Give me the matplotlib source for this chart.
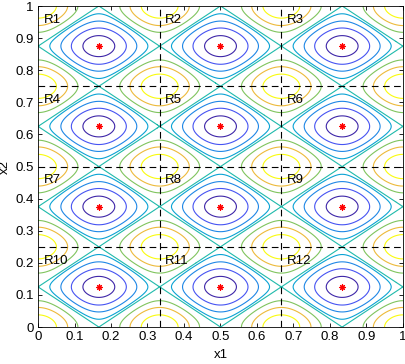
import numpy as np
import matplotlib
matplotlib.use("Agg")
import matplotlib.pyplot as plt
from matplotlib import font_manager

names = {f.name for f in font_manager.fontManager.ttflist}
fam = 'Liberation Sans Narrow' if 'Liberation Sans Narrow' in names else 'Liberation Sans'
plt.rcParams['font.family'] = [fam, 'DejaVu Sans']

# Function parameters: f(x1,x2) = cos(2*pi*kx*x1) + cos(2*pi*ky*x2)
kx = 3
ky = 4
# Contour levels, with their colours (parula-like)
levels = [-1.68, -1.15, -0.62, -0.18, 0.0, 0.53, 1.04, 1.58]
level_colors = [
    (0.2422, 0.1504, 0.6603),
    (0.2800, 0.3300, 0.9500),
    (0.1200, 0.5300, 0.9000),
    (0.0400, 0.6400, 0.8300),
    (0.1200, 0.7300, 0.6700),
    (0.5000, 0.7700, 0.3700),
    (0.9300, 0.7300, 0.2300),
    (0.9763, 0.9831, 0.0538),
]

# Minima (red stars)
star_x = [1/6, 0.5, 5/6]
star_y = [0.125, 0.375, 0.625, 0.875]

# Region boundaries
x_bounds = [1/3, 2/3]
y_bounds = [0.25, 0.5, 0.75]
region_left = [0.0, 1/3, 2/3]
region_top = [1.0, 0.75, 0.5, 0.25]
region_labels = ["R1", "R2", "R3", "R4", "R5", "R6", "R7", "R8", "R9", "R10", "R11", "R12"]

ticks = [0, 0.1, 0.2, 0.3, 0.4, 0.5, 0.6, 0.7, 0.8, 0.9, 1]
tick_labels = ["0", "0.1", "0.2", "0.3", "0.4", "0.5", "0.6", "0.7", "0.8", "0.9", "1"]

fig = plt.figure(figsize=(4.06, 3.64), dpi=100)
ax = fig.add_axes([0.0936, 0.1016, 0.8990, 0.8819])

g = np.linspace(0, 1, 301)
X1, X2 = np.meshgrid(g, g)
F = np.cos(2 * np.pi * kx * X1) + np.cos(2 * np.pi * ky * X2)

ax.contour(X1, X2, F, levels=levels, colors=level_colors, linewidths=0.8, linestyles='solid')

for xb in x_bounds:
    ax.plot([xb, xb], [0, 1], color='black', linestyle=(0, (6, 4)), linewidth=0.8)
for yb in y_bounds:
    ax.plot([0, 1], [yb, yb], color='black', linestyle=(0, (6, 4)), linewidth=0.8)

sx, sy = np.meshgrid(star_x, star_y)
ax.plot(sx.ravel(), sy.ravel(), linestyle='none', marker=(8, 2, 0), markersize=4.5,
        color='red', markeredgewidth=0.8)

i = 0
for yt in region_top:
    for xl in region_left:
        ax.text(xl + 0.015, yt - 0.043, region_labels[i], fontsize=9.5, va='center', ha='left')
        i += 1

ax.set_xlim(0, 1)
ax.set_ylim(0, 1)
ax.set_xticks(ticks)
ax.set_xticklabels(tick_labels)
ax.set_yticks(ticks)
ax.set_yticklabels(tick_labels)
ax.tick_params(direction='in', top=True, right=True, labelsize=9.5, length=3, width=0.6, pad=3)
for s in ax.spines.values():
    s.set_linewidth(0.6)
ax.set_xlabel("x1", fontsize=9.5, labelpad=4)
ax.set_ylabel("x2", fontsize=9.5, labelpad=3)

fig.savefig("out.png", dpi=100)
